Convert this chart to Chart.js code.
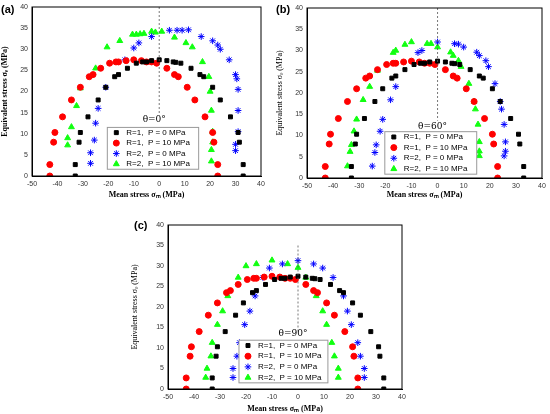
<!DOCTYPE html>
<html><head><meta charset="utf-8">
<script src="https://cdn.jsdelivr.net/npm/chart.js@4"></script>
<style>body{margin:0;background:#fff;width:550px;height:414px;position:relative;overflow:hidden}
.c{position:absolute}</style></head><body>
<div class="c" style="left:0;top:0;width:275px;height:200px"><canvas id="a"></canvas></div>
<div class="c" style="left:275px;top:0;width:275px;height:200px"><canvas id="b"></canvas></div>
<div class="c" style="left:130px;top:200px;width:290px;height:214px"><canvas id="c"></canvas></div>
<script>
const seriesLabels=["R=1,  P = 0 MPa","R=1,  P = 10 MPa","R=2,  P = 0 MPa","R=2,  P = 10 MPa"];
const xTicks=[-50,-40,-30,-20,-10,0,10,20,30,40];
const r1p0=[[-33,0],[-33,2.7],[-31.5,8],[-31,10.3],[-28,14],[-24,18],[-21,21],[-17.5,23.5],[-16,24],[-12.5,25.5],[-9,26.7],[-6.5,27],[-5,27],[-3,27.3],[0,27.5],[3,27.3],[5.5,27],[6.5,26.9],[8.5,26.7],[12.5,25.5],[16,24],[17.5,23.5],[21,21],[24,18],[28,14],[31,10.3],[31.5,8],[33,2.7],[33,0]];
const r1p10=[[-43,0],[-43,2.7],[-41.5,8],[-41,10.3],[-38,14],[-34.5,18],[-31,21],[-27.5,23.5],[-26,24],[-23,25.5],[-19.5,26.7],[-17,27],[-16,27],[-13,27.3],[-10,27.5],[-7,27.3],[-5,27],[-3,27],[-1,26.7],[3,25.5],[6,24],[7.5,23.5],[11,21],[14,18],[18,14],[21,10.3],[21.5,8],[23,2.7],[23,0]];
const a_r2p0=[[-27,3],[-27,5.5],[-25.5,8.5],[-25,12.5],[-24,16],[-21,21],[-13.5,27.5],[-10,30.3],[-8,31.5],[-3,33],[4,34.5],[7,34.5],[9,34.5],[11.5,34.6],[16.5,33],[21,32],[23,31],[24,30],[27.5,27.5],[30,24],[30.5,23],[31,20.5],[31,15.5],[31,10.5],[30,7.5],[30,6]];
const a_r2p10=[[-36,7.3],[-36,9],[-34.5,11.6],[-32.5,16.6],[-31,20.8],[-25,25.5],[-20.5,30.5],[-15.5,32],[-10.5,33.5],[-9,33.5],[-7.5,33.6],[-6,33.7],[-3,34.2],[-1.5,34],[1,34.2],[6,32.8],[10.5,31.5],[13,30.5],[17,27],[19.5,23.5],[20,20],[20.5,15.5],[21,10.5],[21,8],[20.5,6.2],[20.5,3.5]];
const b_r2p0=[[-25,2.8],[-24,6],[-23.5,7.8],[-22,11],[-21,13.8],[-18,18.4],[-16,21.5],[-7.5,29.5],[-6,30],[0,32],[6.5,31.6],[8,31.5],[10,30.8],[15,29.6],[16,28.8],[18.5,27.6],[19.5,26.2],[22,22.2],[24,18],[24.5,16.2],[25.5,12.6],[26,8.5],[26,6.3],[25.5,5.2]];
const b_r2p10=[[-34.5,2.8],[-33.5,6.2],[-33,7.8],[-32,11],[-31,13.8],[-28.5,18.4],[-26,21.5],[-23,25.3],[-17,29.5],[-16,30],[-12.5,31.4],[-10,32],[-4,31.6],[-2.5,31.6],[0,30.8],[5,29.6],[6,28.8],[8,27.6],[9,26.2],[12,22.2],[14,18],[14.5,16.2],[15.5,12.6],[16,8.5],[16,6.3],[16,5.2]];
const c_r2p0=[[-25,2.8],[-25,5],[-23.5,8],[-22.5,11.3],[-20.5,15.7],[-18.5,19],[-16.5,22.7],[-13.5,27.2],[-11,29.5],[-6,30.5],[0,31.3],[6,30.5],[9.5,29.5],[13.5,27.2],[17.5,22.7],[19,19],[20.5,15.7],[23,11.3],[24,8],[25.5,5],[25.5,2.8]];
const c_r2p10=[[-35.5,2.8],[-35,5],[-33.5,8],[-33,11.3],[-31,15.7],[-29,19],[-27,22.7],[-23,27.2],[-20,30],[-16,30.5],[-10,31.4],[-4,30.5],[0,29.6],[3,27.2],[7,22.7],[9.5,19],[11,15.7],[13,11.3],[14,8],[15.5,5],[15.5,2.8]];

const styles=[{c:'#000',s:'rect',r:2.8},{c:'#f00',s:'circle',r:3},{c:'#00f',s:'star',r:3.3},{c:'#1f1',s:'triangle',r:3.4}];
const pts=a=>a.map(p=>({x:p[0],y:p[1]}));

function make(id,tag,theta,sets,lay,box,thetaY,dashBottom,yBold){
  const plugin={id:'deco'+id,
    afterDraw(ch){
      const ctx=ch.ctx,a=ch.chartArea,x=ch.scales.x,y=ch.scales.y;
      ctx.save();
      ctx.strokeStyle='#555';ctx.lineWidth=0.8;ctx.setLineDash([2,2]);
      ctx.beginPath();ctx.moveTo(x.getPixelForValue(0),id==='c'?y.getPixelForValue(35):a.top);ctx.lineTo(x.getPixelForValue(0),y.getPixelForValue(dashBottom));ctx.stroke();
      ctx.setLineDash([]);
      ctx.strokeStyle='#000';ctx.lineWidth=1;ctx.strokeRect(a.left,a.top,a.right-a.left,a.bottom-a.top);
      ctx.fillStyle='#000';ctx.font='bold 11px Arial';ctx.textBaseline='top';ctx.textAlign='left';
      ctx.fillText(tag,lay.tagX,lay.tagY);
      const L=x.getPixelForValue(box[0]),R=x.getPixelForValue(box[2]),T=y.getPixelForValue(box[1]),B=y.getPixelForValue(box[3]);
      ctx.fillStyle='#fff';ctx.fillRect(L,T,R-L,B-T);
      ctx.strokeStyle='#999';ctx.lineWidth=1;ctx.strokeRect(L,T,R-L,B-T);
      ctx.font='8px Arial';ctx.textBaseline='middle';
      const h=(B-T)/4;
      for(let i=0;i<4;i++){
        const cy=T+h*(i+0.5),st=styles[i];
        ctx.fillStyle=st.c;ctx.strokeStyle=st.c;ctx.lineWidth=1;
        Chart.helpers.drawPoint(ctx,{pointStyle:st.s,radius:st.r,rotation:0,borderWidth:1},L+9,cy);
        ctx.fillStyle='#000';ctx.fillText(seriesLabels[i],L+19,cy);
      }
      ctx.textAlign='center';ctx.font='9px "DejaVu Serif"';ctx.textBaseline='alphabetic';
      ctx.fillText(theta,x.getPixelForValue(0)-5,y.getPixelForValue(thetaY));
      ctx.restore();
    }};
  new Chart(document.getElementById(id),{type:'scatter',
    data:{datasets:sets.map((d,i)=>({label:seriesLabels[i],data:pts(d),pointStyle:styles[i].s,pointRadius:styles[i].r,
      backgroundColor:styles[i].c,borderColor:styles[i].c,borderWidth:1,pointHoverRadius:styles[i].r}))},
    options:{responsive:true,maintainAspectRatio:false,animation:false,
      layout:{padding:{top:lay.top,right:lay.right,left:0,bottom:0}},
      plugins:{legend:{display:false},tooltip:{enabled:false}},
      scales:{
        x:{type:'linear',min:-50,max:40,afterBuildTicks:s=>{s.ticks=xTicks.map(v=>({value:v}))},
          grid:{display:false,drawTicks:true,tickLength:3},border:{color:'#000'},
          ticks:{font:{size:7,family:'Arial'},color:'#333',padding:1,maxRotation:0},
          title:{display:true,text:'Mean stress σₘ (MPa)',font:{size:8,weight:'bold',family:'"Liberation Serif"'},color:'#000',padding:0},
          afterFit:s=>{s.height=lay.xh}},
        y:{min:0,max:40,ticks:{stepSize:5,font:{size:7,family:'Arial'},color:'#333',padding:1},
          grid:{display:false,tickLength:3},border:{color:'#000'},
          title:{display:true,text:'Equivalent stress σₑ (MPa)',font:{size:8,weight:yBold?'bold':'normal',family:'"Liberation Serif"'},color:'#000',padding:0},
          afterFit:s=>{s.width=lay.yw}}}},
    plugins:[plugin]});
}
make('a','(a)','θ=0°',[r1p0,r1p10,a_r2p0,a_r2p10],{top:7,right:14,xh:24,yw:32,tagX:1,tagY:4},[-20.4,11.5,15.5,1.6],12.8,14.5,true);
make('b','(b)','θ=60°',[r1p0,r1p10,b_r2p0,b_r2p10],{top:8,right:8,xh:22,yw:32,tagX:1,tagY:4},[-20.2,10.9,15,0.9],11.6,13.5,false);
make('c','(c)','θ=90°',[r1p0,r1p10,c_r2p0,c_r2p10],{top:25,right:18,xh:25,yw:38,tagX:4,tagY:20},[-22.7,11.9,11.5,1.5],12.9,14,false);
</script></body></html>
